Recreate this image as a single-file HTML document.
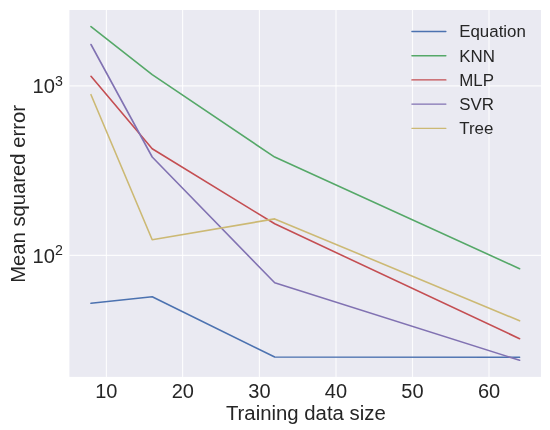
<!DOCTYPE html>
<html lang="en"><head><meta charset="utf-8"><title>Mean squared error vs training data size</title>
<style>html,body{margin:0;padding:0;background:#fff;}svg{display:block;}text{font-family:"Liberation Sans",Arial,sans-serif;fill:#262626;}</style></head><body>
<svg width="550" height="430" viewBox="0 0 550 430">
<rect width="550" height="430" fill="#ffffff"/>
<rect x="69.4" y="10.0" width="471.6" height="366.9" fill="#eaeaf2"/>
<g stroke="#ffffff" stroke-opacity="0.85" stroke-width="1.15">
<line x1="106.40" y1="10.0" x2="106.40" y2="376.9"/>
<line x1="182.60" y1="10.0" x2="182.60" y2="376.9"/>
<line x1="259.40" y1="10.0" x2="259.40" y2="376.9"/>
<line x1="336.00" y1="10.0" x2="336.00" y2="376.9"/>
<line x1="412.50" y1="10.0" x2="412.50" y2="376.9"/>
<line x1="489.00" y1="10.0" x2="489.00" y2="376.9"/>
<line x1="69.4" y1="85.90" x2="541.0" y2="85.90"/>
<line x1="69.4" y1="255.40" x2="541.0" y2="255.40"/>
</g>
<g fill="none" stroke-width="1.60" stroke-linecap="round" stroke-linejoin="round">
<polyline stroke="#4c72b0" points="91.0,303.3 152.2,296.8 274.7,357.0 519.6,357.2"/>
<polyline stroke="#55a868" points="91.0,26.6 152.2,74.7 274.7,157.1 519.6,268.7"/>
<polyline stroke="#c44e52" points="91.0,76.3 152.2,148.8 274.7,223.8 519.6,338.7"/>
<polyline stroke="#8172b2" points="91.0,44.5 152.2,157.0 274.7,282.8 519.6,360.3"/>
<polyline stroke="#ccb974" points="91.0,94.7 152.2,239.8 274.7,218.9 519.6,320.8"/>
</g>
<g font-size="20" text-anchor="middle">
<text x="106.3" y="397.9">10</text>
<text x="182.8" y="397.9">20</text>
<text x="259.4" y="397.9">30</text>
<text x="335.9" y="397.9">40</text>
<text x="412.4" y="397.9">50</text>
<text x="489.0" y="397.9">60</text>
</g>
<g font-size="20.2" text-anchor="start">
<text x="32.5" y="92.8">10<tspan font-size="14.2" dy="-7.2">3</tspan></text>
<text x="32.5" y="263.1">10<tspan font-size="14.2" dy="-7.8">2</tspan></text>
</g>
<text x="305.8" y="420.4" font-size="20.35" text-anchor="middle">Training data size</text>
<text transform="translate(24.6,193.9) rotate(-90)" font-size="20.24" text-anchor="middle">Mean squared error</text>
<g fill="none" stroke-width="1.35" stroke-linecap="round">
<line stroke="#4c72b0" x1="411.9" y1="31.5" x2="445.9" y2="31.5"/>
<line stroke="#55a868" x1="411.9" y1="55.7" x2="445.9" y2="55.7"/>
<line stroke="#c44e52" x1="411.9" y1="79.9" x2="445.9" y2="79.9"/>
<line stroke="#8172b2" x1="411.9" y1="104.1" x2="445.9" y2="104.1"/>
<line stroke="#ccb974" x1="411.9" y1="128.3" x2="445.9" y2="128.3"/>
</g>
<g font-size="16.9">
<text x="459.2" y="37.4">Equation</text>
<text x="459.2" y="61.6">KNN</text>
<text x="459.2" y="86.0">MLP</text>
<text x="459.2" y="110.2">SVR</text>
<text x="459.2" y="134.3">Tree</text>
</g>
</svg></body></html>
